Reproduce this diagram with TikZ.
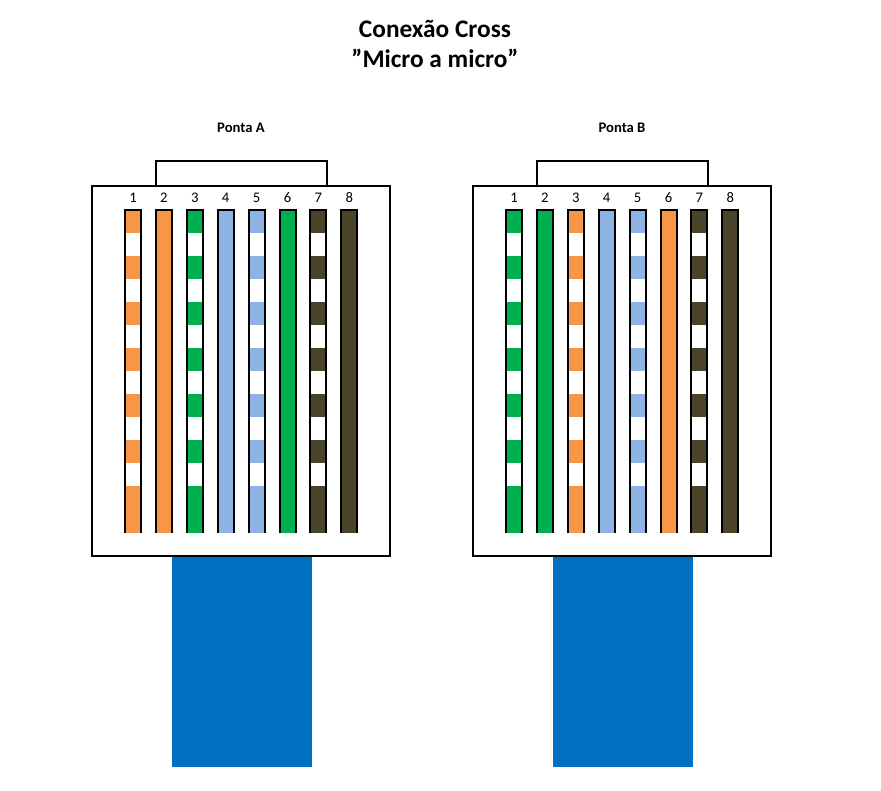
\documentclass[tikz,border=0pt]{standalone}
\usepackage{fontspec}
\setmainfont{Carlito}
\definecolor{cor}{HTML}{F79646}
\definecolor{cgr}{HTML}{00B050}
\definecolor{cbl}{HTML}{8DB4E2}
\definecolor{cbr}{HTML}{494429}
\definecolor{cab}{HTML}{0070C0}
\begin{document}
\begin{tikzpicture}[x=0.75pt,y=-0.75pt,
  box/.style={draw=black,line width=2.2pt,fill=white},
  wire/.style={draw=black,line width=1.5pt},
  num/.style={font=\fontsize{11}{12}\selectfont},
  lbl/.style={font=\bfseries\fontsize{11}{13}\selectfont}]
\useasboundingbox (0,0) rectangle (881,791);
\node[font=\bfseries\fontsize{19}{23}\selectfont,align=center] (title) at (435,44) {Conexão Cross\\"Micro a micro"};
\foreach \off/\nm/\cols in {0/A/{cor/1,cor/0,cgr/1,cbl/0,cbl/1,cgr/0,cbr/1,cbr/0},381/B/{cgr/1,cgr/0,cor/1,cbl/0,cbl/1,cor/0,cbr/1,cbr/0}}{
  \begin{scope}[xshift=\off*0.75pt]
  \node[lbl] (p\nm) at (241,128) {Ponta \nm};
  \fill[cab] (172,556) rectangle (312,767);
  \draw[line width=1.5pt] (156,186) -- (156,161) -- (327,161) -- (327,186);
  \draw[box] (92,186) rectangle (390,556);
  \foreach \c/\s [count=\i] in \cols {
    \pgfmathsetmacro\xc{133+30.9*(\i-1)}
    \node[num] (n\nm\i) at (\xc,198) {\i};
    \fill[\c] (\xc-8,210) rectangle (\xc+8,533);
    \ifnum\s=1
      \foreach \k in {0,...,5}{\fill[white] (\xc-8,233+46*\k) rectangle (\xc+8,256+46*\k);}
    \fi
    \draw[wire] (\xc-8,533) -- (\xc-8,210) -- (\xc+8,210) -- (\xc+8,533);
  }
  \end{scope}
}
\end{tikzpicture}
\end{document}
